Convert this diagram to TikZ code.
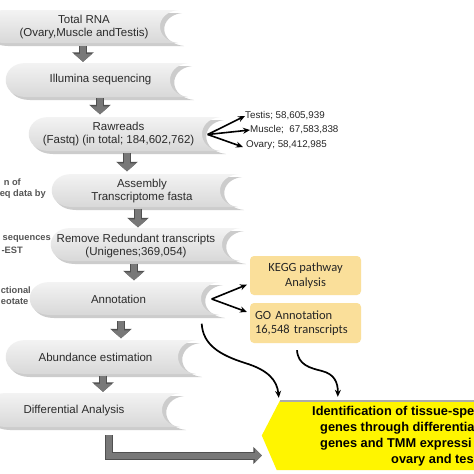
\documentclass[tikz,border=0pt]{standalone}
\usepackage{fontspec}
\setmainfont{Liberation Sans}
\newfontfamily\calfont{Carlito}
\usetikzlibrary{arrows.meta,calc}
\definecolor{bannertop}{HTML}{F3F3F3}
\definecolor{bannerbot}{HTML}{D8D8D8}
\definecolor{shadowc}{HTML}{C4C4C4}
\definecolor{garrowin}{HTML}{787878}
\definecolor{garrowout}{HTML}{505050}
\definecolor{keggc}{HTML}{FADF9A}
\definecolor{yelc}{HTML}{FFF500}
\definecolor{sidegray}{HTML}{555555}
\definecolor{btextc}{HTML}{2B2B2B}
% banner shape: L R T B
\newcommand{\bannershape}[4]{%
  \fill[shadowc,opacity=.85] ({#1+24},{#3+3}) -- ({#2+4},{#3+3})
    .. controls ({#2-20},{#3+6}) and ({#2-20},{#4}) .. ({#2+6},{#4+3})
    -- ({#1+24},{#4+3}) .. controls ({#1-5},{#4+3}) and ({#1-5},{#3+3}) .. ({#1+24},{#3+3}) -- cycle;
  \shade[top color=bannertop,bottom color=bannerbot] ({#1+20},#3) -- (#2,#3)
    .. controls ({#2-24},{#3+3}) and ({#2-24},{#4-3}) .. (#2,#4)
    -- ({#1+20},#4) .. controls ({#1-7},#4) and ({#1-7},#3) .. ({#1+20},#3) -- cycle;
}
\tikzset{
  btext/.style={inner sep=0pt, align=center, text=btextc,
    font=\fontsize{11.5}{13}\selectfont},
  garrow/.style={draw=garrowin, line width=6pt,
    -{Triangle[width=18pt,length=8pt]},
    preaction={draw=garrowout, line width=8pt, -{Triangle[width=21pt,length=9.5pt]}}},
  elbowarrow/.style={draw=garrowin, line width=6pt, line join=miter,
    -{Triangle[width=14pt,length=7pt]},
    preaction={draw=garrowout, line width=8pt, line join=miter, -{Triangle[width=16.5pt,length=8.5pt]}}},
  fanarrow/.style={draw=black, line width=1.6pt, -{Stealth[length=7pt,width=6pt]}},
  curvyarrow/.style={draw=black, line width=1.7pt, -{Stealth[length=7pt,width=6pt]}},
  countlbl/.style={anchor=west, inner sep=1pt, text=black!85,
    font=\fontsize{9.8}{11}\selectfont},
  sidelbl/.style={anchor=east, inner sep=0pt, text=sidegray,
    font=\bfseries\fontsize{9.3}{11}\selectfont},
  resbox/.style={fill=keggc, rounded corners=4pt, minimum width=111pt,
    font=\calfont\fontsize{12.5}{14.5}\selectfont, text=black!85},
  yeltext/.style={anchor=west, inner sep=0pt,
    font=\bfseries\fontsize{12.8}{15}\selectfont},
}
\begin{document}
\begin{tikzpicture}[x=1pt,y=-1pt]
\useasboundingbox (0,0) rectangle (474,474);
\clip (0,0) rectangle (474,474);
\fill[white] (0,0) rectangle (474,474);

% banners
\bannershape{-16}{178}{10}{43}
\bannershape{6}{188}{63}{97}
\bannershape{29}{220}{117}{151}
\bannershape{52}{238}{174}{207}
\bannershape{51}{240}{228}{261}
\bannershape{30}{219}{282}{315}
\bannershape{6}{196}{340}{374}
\bannershape{-14}{180}{393}{427}

\node[btext, minimum height=33pt] (n1) at (84,27.5) {Total RNA\\(Ovary,Muscle andTestis)};
\node[btext, minimum height=34pt] (n2) at (100.5,80) {Illumina sequencing};
\node[btext, minimum height=34pt, minimum width=178pt] (n3) at (118.5,134.5) {Rawreads\\(Fastq) (in total; 184,602,762)};
\node[btext, minimum height=33pt] (n4) at (142,191) {Assembly\\Transcriptome fasta};
\node[btext, minimum height=33pt] (n5) at (136,246) {Remove Redundant transcripts\\(Unigenes;369,054)};
\node[btext, minimum height=33pt, minimum width=186pt] (n6) at (118.5,299) {Annotation};
\node[btext, minimum height=34pt] (n7) at (95.5,357.5) {Abundance estimation};
\node[btext, minimum height=34pt] (n8) at (74,411) {Differential Analysis};

% side fragments
\node[sidelbl] (s1) at (21,182) {n of};
\node[sidelbl] (s2) at (46,194) {eq data by};
\node[sidelbl] (s3) at (51,239) {sequences};
\node[sidelbl] (s4) at (23,250) {-EST};
\node[sidelbl] (s5) at (31,290) {ctional};
\node[sidelbl] (s6) at (28.5,302) {eotate};

% down arrows
\draw[garrow] ([yshift=-2pt]n1.south -| 83,0) -- ([yshift=1pt]n2.north -| 83,0);
\draw[garrow] ([yshift=-1pt]n2.south -| 100,0) -- ([yshift=3pt]n3.north -| 100,0);
\draw[garrow] ([yshift=-1.5pt]n3.south -| 127,0) -- ([yshift=3pt]n4.north -| 127,0);
\draw[garrow] ([yshift=-1pt]n4.south -| 138,0) -- ([yshift=2pt]n5.north -| 138,0);
\draw[garrow] ([yshift=-1pt]n5.south -| 134,0) -- ([yshift=2pt]n6.north -| 134,0);
\draw[garrow] ([yshift=-5pt]n6.south -| 121,0) -- ([yshift=2pt]n7.north -| 121,0);
\draw[garrow] ([yshift=-1pt]n7.south -| 103,0) -- ([yshift=2pt]n8.north -| 103,0);

% read counts
\node[countlbl] (testis) at (244,116) {Testis; 58,605,939};
\node[countlbl] (muscle) at (249,130) {Muscle;\ \ 67,583,838};
\node[countlbl] (ovary) at (245,145) {Ovary; 58,412,985};
\draw[fanarrow] (n3.east) -- ([xshift=1pt]testis.west);
\draw[fanarrow] (n3.east) -- ([xshift=1pt]muscle.west);
\draw[fanarrow] (n3.east) -- ([xshift=-2pt,yshift=-2pt]ovary.west);

% annotation results
\node[resbox, minimum height=39pt, align=center] (kegg) at (305.5,275.5) {KEGG pathway\\Analysis};
\node[resbox, minimum height=40pt, text width=101pt, inner sep=5pt, align=left] (go) at (305.5,323) {GO Annotation\\16,548 transcripts};
\draw[fanarrow, shorten >=3pt] (n6.east) -- ([yshift=-8pt]kegg.west);
\draw[fanarrow, shorten >=3pt] (n6.east) -- ([yshift=10pt]go.west);

% yellow result
\node[inner sep=0pt, minimum width=228pt, minimum height=69pt] (yel) at (376,435.5) {};
\fill[yelc] (yel.west) -- ([xshift=18pt]yel.north west) -- (yel.north east)
  -- (yel.south east) -- ([xshift=15pt]yel.south west) -- cycle;
\draw[gray!65, line width=1.5pt] ([xshift=18pt]yel.north west) -- (yel.north east);
\node[yeltext] (y1) at (312,412) {Identification of tissue-spe};
\node[yeltext] (y2) at (320,428) {genes through differentia};
\node[yeltext] (y3) at (320,444) {genes and TMM expressi};
\node[yeltext] (y4) at (391,460) {ovary and tes};

% curved arrows
\draw[curvyarrow] ([xshift=-10pt,yshift=-8pt]n6.south east)
  .. controls (203,345) and (220,355) .. (245,363)
  .. controls (268,370) and (277,380) .. ([xshift=17pt,yshift=3pt]yel.north west);
\draw[curvyarrow] ([xshift=-8.5pt,yshift=-7pt]go.south)
  .. controls (298,365) and (310,368) .. (322,371)
  .. controls (334,374) and (338,382) .. ([xshift=76pt,yshift=4pt]yel.north west);

% elbow arrow
\draw[elbowarrow] ([yshift=-7pt]n8.south -| 109,0) |- ([yshift=-20pt]yel.west);
\end{tikzpicture}
\end{document}
